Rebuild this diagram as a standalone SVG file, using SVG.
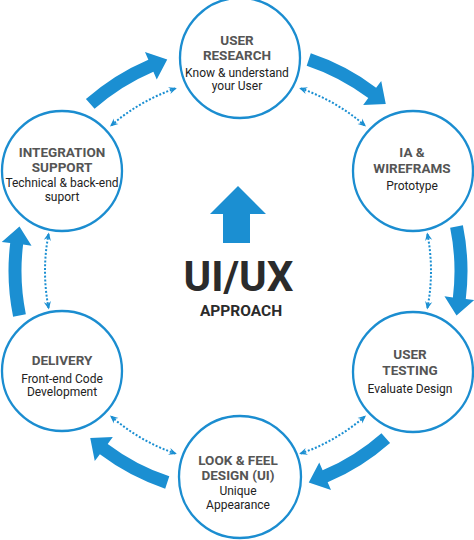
<svg xmlns="http://www.w3.org/2000/svg" xmlns:xlink="http://www.w3.org/1999/xlink" width="474" height="540" viewBox="0 0 474 540">
<style>
.node circle{fill:#fff;stroke:#1b8dd0;stroke-width:2.3}
.t{font-family:Roboto,"Liberation Sans",sans-serif;font-weight:bold;font-size:13.5px;fill:#555;text-anchor:middle}
.s{font-family:Roboto,"Liberation Sans",sans-serif;font-size:12px;fill:#222;text-anchor:middle}
.big{font-family:Roboto,"Liberation Sans",sans-serif;font-weight:bold;fill:#2b2b2b;text-anchor:middle}
.dot{fill:none;stroke:#1b8fd2;stroke-width:2;stroke-dasharray:2 1.8;marker-start:url(#dh);marker-end:url(#dh)}
.arr{fill:#1b8fd2}
</style>
<defs>
<marker id="dh" viewBox="0 0 10 10" refX="7" refY="5" markerWidth="9" markerHeight="9" markerUnits="userSpaceOnUse" orient="auto-start-reverse">
<path d="M0,1 L9,5 L0,9 L3,5 Z" fill="#1b8fd2"/>
</marker>
<path id="bigArrow" class="arr" d="M 192.24 46.11 A 229.5 229.5 0 0 1 265.97 43.21 L 267.00 34.77 L 282.46 52.48 L 263.35 64.55 L 264.38 56.11 A 216.5 216.5 0 0 0 194.84 58.85 Z"/>
<path id="dotArc" class="dot" d="M 201.17 81.55 A 193 193 0 0 1 274.83 81.55"/>
</defs>
<rect width="474" height="540" fill="#fff"/>
<g id="connectors">
<use xlink:href="#bigArrow" transform="rotate(-30 238 271)"/>
<use xlink:href="#bigArrow" transform="rotate(30 238 271)"/>
<use xlink:href="#bigArrow" transform="rotate(90 238 271)"/>
<use xlink:href="#bigArrow" transform="rotate(150 238 271)"/>
<use xlink:href="#bigArrow" transform="rotate(210 238 271)"/>
<use xlink:href="#bigArrow" transform="rotate(270 238 271)"/>
<use xlink:href="#dotArc" transform="rotate(-30 238 271)"/>
<use xlink:href="#dotArc" transform="rotate(30 238 271)"/>
<use xlink:href="#dotArc" transform="rotate(90 238 271)"/>
<use xlink:href="#dotArc" transform="rotate(150 238 271)"/>
<use xlink:href="#dotArc" transform="rotate(210 238 271)"/>
<use xlink:href="#dotArc" transform="rotate(270 238 271)"/>
</g>
<g id="user-research" class="node">
<circle cx="240" cy="58" r="60"/>
<text class="t" x="237" y="45">USER</text>
<text class="t" x="237" y="60">RESEARCH</text>
<text class="s" x="237" y="77">Know &amp; understand</text>
<text class="s" x="237" y="90">your User</text>
</g>
<g id="ia-wireframes" class="node">
<circle cx="413" cy="171" r="60"/>
<text class="t" x="412" y="157">IA &amp;</text>
<text class="t" x="412" y="173">WIREFRAMS</text>
<text class="s" x="412" y="190">Prototype</text>
</g>
<g id="user-testing" class="node">
<circle cx="413" cy="372" r="60"/>
<text class="t" x="410" y="359">USER</text>
<text class="t" x="410" y="374.5">TESTING</text>
<text class="s" x="410" y="393">Evaluate Design</text>
</g>
<g id="look-feel" class="node">
<circle cx="240" cy="477" r="61"/>
<text class="t" x="238" y="465">LOOK &amp; FEEL</text>
<text class="t" x="238" y="480">DESIGN (UI)</text>
<text class="s" x="238" y="495">Unique</text>
<text class="s" x="238" y="509">Appearance</text>
</g>
<g id="delivery" class="node">
<circle cx="62" cy="371" r="60"/>
<text class="t" x="62" y="365">DELIVERY</text>
<text class="s" x="62" y="383">Front-end Code</text>
<text class="s" x="62" y="396">Development</text>
</g>
<g id="integration-support" class="node">
<circle cx="62" cy="171" r="60"/>
<text class="t" x="62" y="157">INTEGRATION</text>
<text class="t" x="62" y="172">SUPPORT</text>
<text class="s" x="62" y="187">Technical &amp; back-end</text>
<text class="s" x="62" y="201">suport</text>
</g>
<g id="center">
<path class="arr" d="M238 186 L266 214 L250 214 L250 243 L223 243 L223 214 L210 214 Z"/>
<text class="big" x="238.5" y="291" font-size="42">UI/UX</text>
<text class="big" x="241" y="316" font-size="15.5">APPROACH</text>
</g>
</svg>
